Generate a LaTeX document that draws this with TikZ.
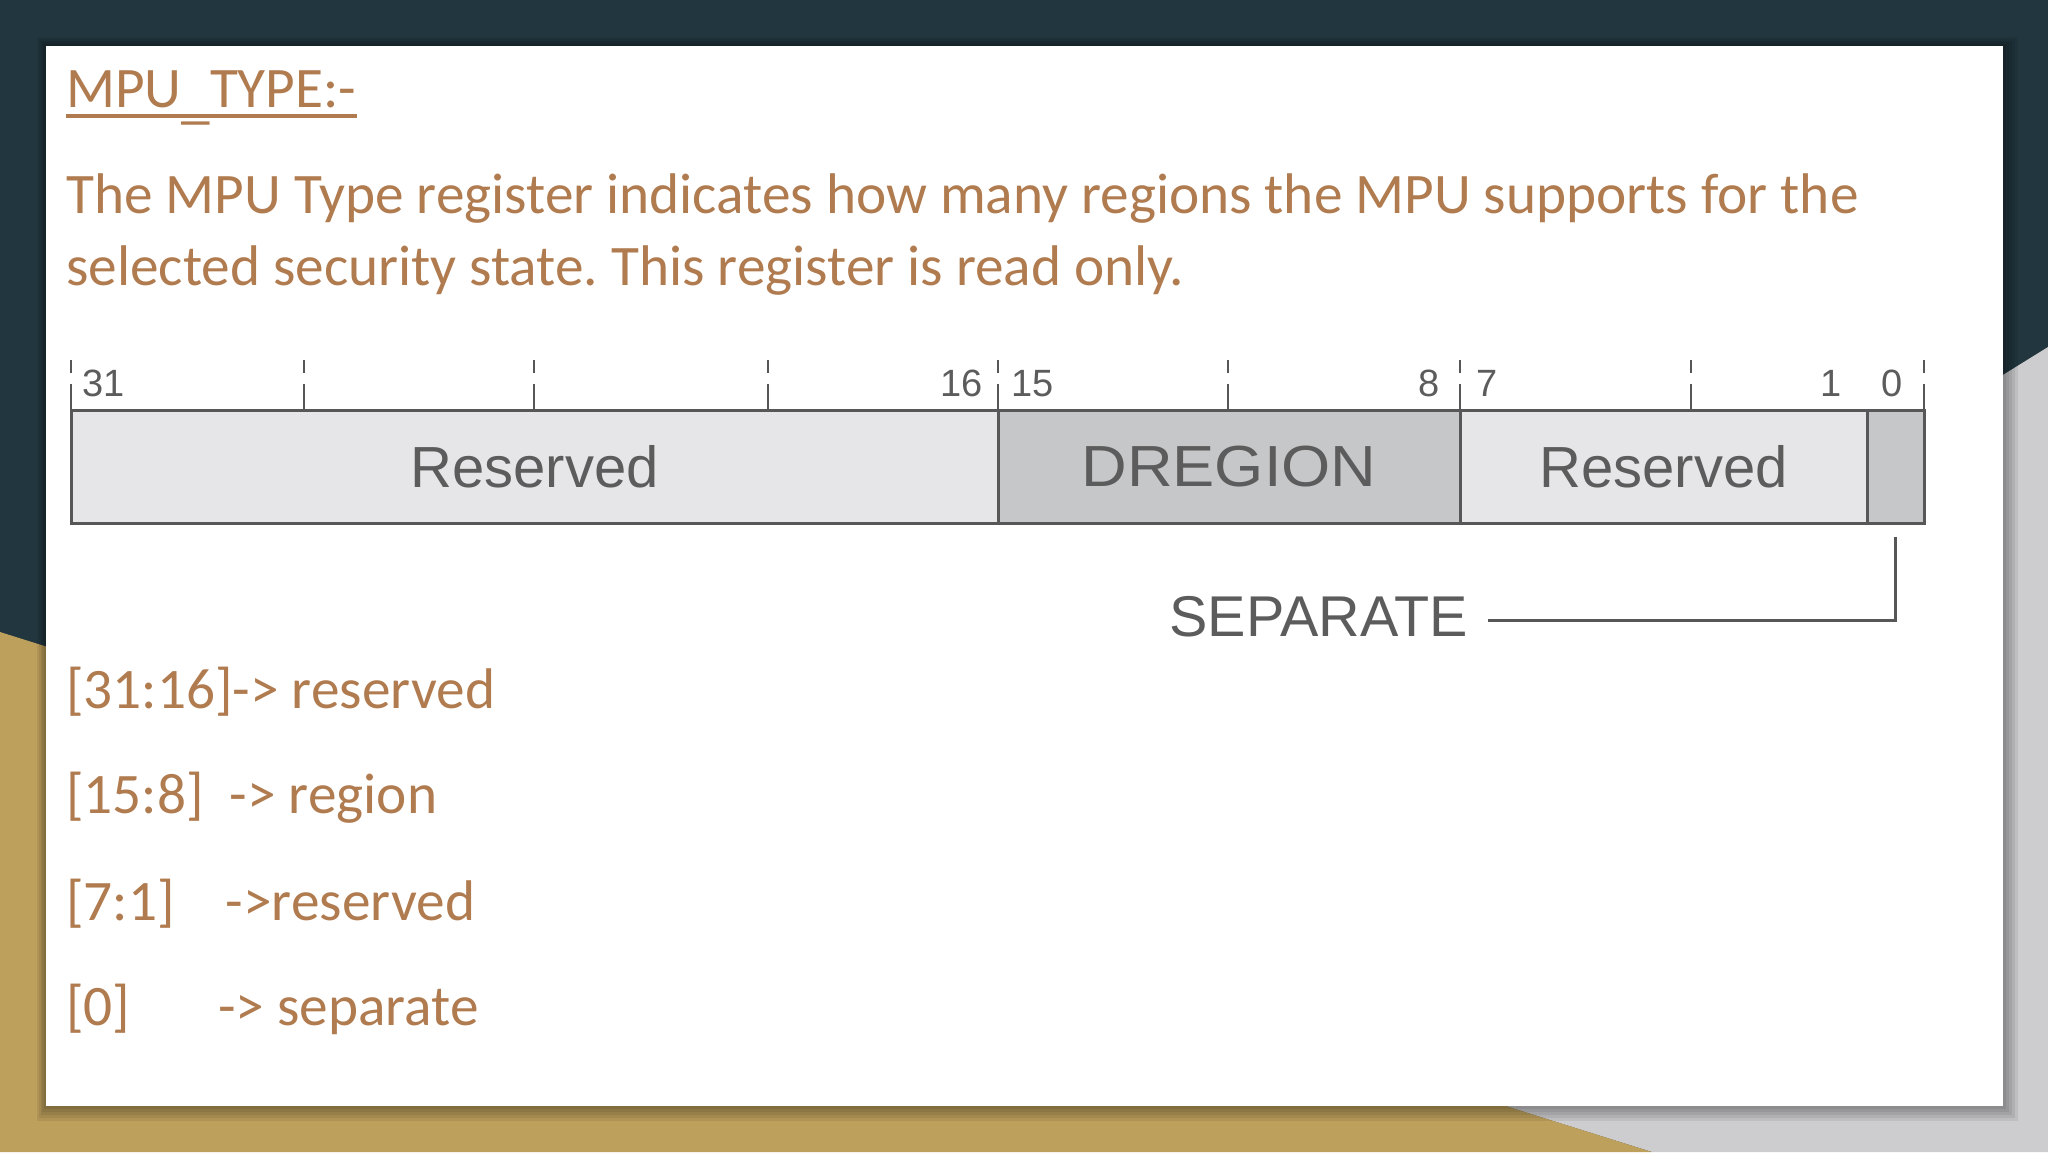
\documentclass[tikz,border=0pt]{standalone}
\usepackage{fontspec}
\usepackage{graphicx}
\setmainfont{Carlito}
\newfontfamily\regfont{Liberation Sans}
\frenchspacing
\definecolor{navy}{HTML}{22363F}
\definecolor{goldbg}{HTML}{BEA05D}
\definecolor{graybg}{HTML}{CDCDD0}
\definecolor{brown}{HTML}{B07B4F}
\definecolor{regline}{HTML}{575757}
\definecolor{reglight}{HTML}{E6E6E8}
\definecolor{regdark}{HTML}{C6C7C9}
\definecolor{regtext}{HTML}{5C5C5C}
\tikzset{
  slidetext/.style={anchor=base west, inner sep=0pt, text=brown, font=\fontsize{57.3}{68}\selectfont},
  field/.style={draw=regline, line width=3pt, inner sep=0pt, minimum height=113pt, text=regtext, font=\regfont\fontsize{58}{60}\selectfont},
  bitnum/.style={inner sep=0pt, text=regtext, font=\regfont\fontsize{38}{40}\selectfont},
  tick/.style={draw=regline, line width=2.5pt},
  conn/.style={draw=regline, line width=3pt},
  shadowlayer/.style={fill=black, fill opacity=0.07}
}
\begin{document}
\begin{tikzpicture}[x=1pt,y=-1pt]
\useasboundingbox (0,0) rectangle (2048,1152);
% background
\fill[navy] (0,0) rectangle (2048,1152);
\fill[graybg] (1053,964) -- (2048,347) -- (2048,1152) -- (1652,1152) -- cycle;
\fill[goldbg] (0,632) -- (1652,1152) -- (0,1152) -- cycle;
% card shadow
\foreach \s in {3,6,9,12,15}{
  \fill[shadowlayer] (46-\s*0.6,46-\s*0.6) rectangle (2003+\s,1106+\s);
}
\fill[white] (46,46) rectangle (2003,1106);

% title and paragraph
\node[slidetext] (title) at (66,107) {MPU\raisebox{-10pt}{\_}TYPE:-};
\draw[brown, line width=3.5pt] ([yshift=-9pt]title.base west) -- ([yshift=-9pt]title.base east);
\node[slidetext] (para1) at (66,213) {The MPU Type register indicates how many regions the MPU supports for the};
\node[slidetext] (para2) at (66,285) {selected security state. This register is read only.};

% register fields
\node[field, fill=reglight, minimum width=927pt] (f1) at (534.5,466.5) {Reserved};
\node[field, fill=regdark, minimum width=462pt] (f2) at (1229,466.5) {\scalebox{1.09}[1]{DREGION}};
\node[field, fill=reglight, minimum width=407pt] (f3) at (1663.5,466.5) {Reserved};
\node[field, fill=regdark, minimum width=57pt] (f4) at (1895.5,466.5) {};

% ticks
\foreach \x in {71,304,534,768,998,1228,1460,1691,1924}{
  \draw[tick] (\x,360) -- (\x,373);
  \draw[tick] (\x,384) -- (\x,410);
}
% bit numbers
\node[bitnum, anchor=base west] (n31) at (82,396) {31};
\node[bitnum, anchor=base east] (n16) at (983,396) {16};
\node[bitnum, anchor=base west] (n15) at (1011,396) {15};
\node[bitnum, anchor=base east] (n8) at (1440,396) {8};
\node[bitnum, anchor=base west] (n7) at (1476,396) {7};
\node[bitnum, anchor=base east] (n1) at (1842,396) {1};
\node[bitnum, anchor=base] (n0) at (1892,396) {0};

% separate label and connector
\node[bitnum, font=\regfont\fontsize{57.5}{58}\selectfont, anchor=base east] (sep) at (1468,636) {SEPARATE};
\coordinate (sepend) at ([xshift=20pt]sep.east |- 0,620);
\draw[conn] ([yshift=-12pt]f4.south) |- (sepend);

% list
\node[slidetext] (l1) at (66,708) {[31:16]-> reserved};
\node[slidetext] (l2) at (66,813) {[15:8]\hspace*{26pt}-> region};
\node[slidetext] (l3) at (66,920) {[7:1]\hspace*{51pt}->reserved};
\node[slidetext] (l4) at (66,1025) {[0]\hspace*{88pt}-> separate};
\end{tikzpicture}
\end{document}
